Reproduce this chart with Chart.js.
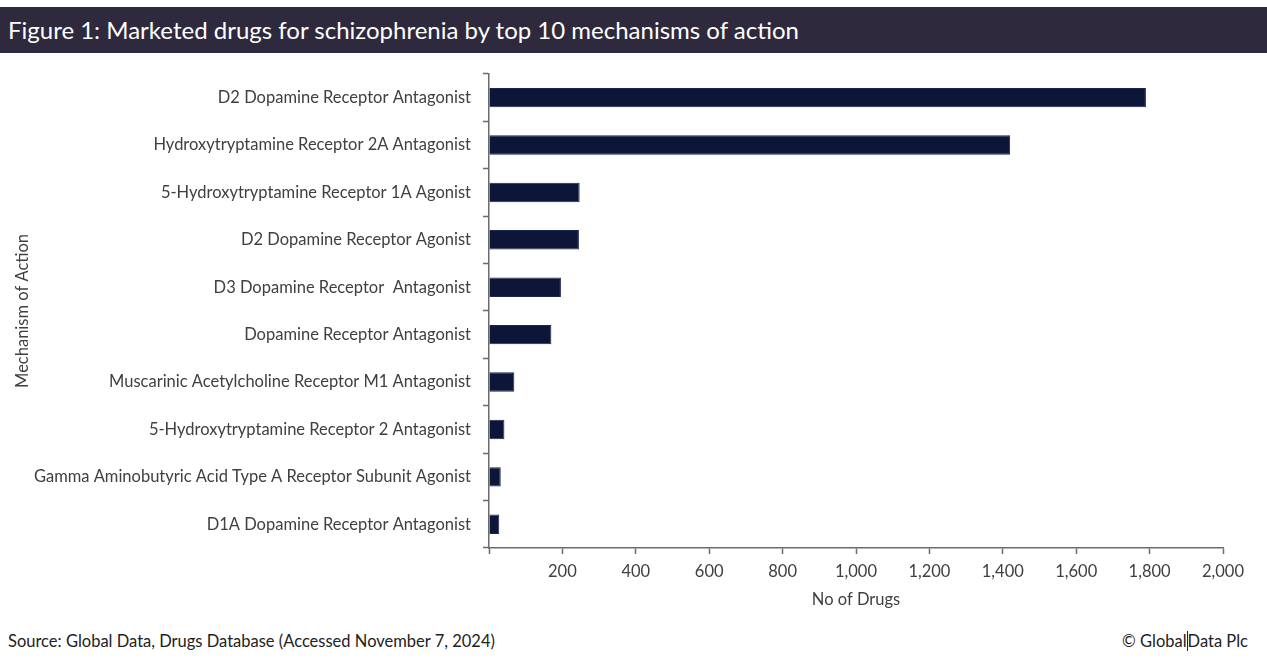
<!DOCTYPE html>
<html>
<head>
<meta charset="utf-8">
<script src="https://cdn.jsdelivr.net/npm/chart.js@4"></script>
<style>
  body { margin: 0; background: #fff; font-family: Lato, "Open Sans", sans-serif; }
  #page { position: relative; width: 1267px; height: 660px; overflow: hidden; }
  #title {
    position: absolute; left: 0; top: 7px; width: 1267px; height: 46px;
    background: #2e293d; color: #fff; font-size: 24px; line-height: 46px;
    padding-left: 8px; box-sizing: border-box;
  }
  #wrap { position: absolute; left: 0; top: 52px; width: 1267px; height: 568px; }
  .foot { position: absolute; top: 631px; font-size: 16.5px; color: #222; }
  #source { left: 8px; }
  #copy { right: 19px; }
  #copy span { border-left: 1px solid #222; }
</style>
</head>
<body>
<div id="page">
  <div id="title">Figure 1: Marketed drugs for schizophrenia by top 10 mechanisms of action</div>
  <div id="wrap"><canvas id="chart-1"></canvas></div>
  <div class="foot" id="source">Source: Global Data, Drugs Database (Accessed November 7, 2024)</div>
  <div class="foot" id="copy">© Global<span>Data Plc</span></div>
</div>
<script>
// categories and values
const mechanisms = [
  "D2 Dopamine Receptor Antagonist",
  "Hydroxytryptamine Receptor 2A Antagonist",
  "5-Hydroxytryptamine Receptor 1A Agonist",
  "D2 Dopamine Receptor Agonist",
  "D3 Dopamine Receptor  Antagonist",
  "Dopamine Receptor Antagonist",
  "Muscarinic Acetylcholine Receptor M1 Antagonist",
  "5-Hydroxytryptamine Receptor 2 Antagonist",
  "Gamma Aminobutyric Acid Type A Receptor Subunit Agonist",
  "D1A Dopamine Receptor Antagonist"
];
const drugCounts = [1790, 1420, 247, 245, 196, 170, 69, 42, 32, 28];
const xMin = 0;
const xMax = 2000;
const xStep = 200;

const axisColor = '#6b6b6b';
const labelFont = { family: 'Lato', size: 16.5 };

const ctx = document.getElementById("chart-1").getContext("2d");
const myChart = new Chart(ctx, {
  type: "bar",
  data: {
    labels: mechanisms,
    datasets: [{
      label: "No of Drugs",
      data: drugCounts,
      backgroundColor: '#0d1538',
      borderColor: '#1c2550',
      borderWidth: 1,
      barPercentage: 0.41,
      categoryPercentage: 1
    }]
  },
  options: {
    indexAxis: 'y',
    responsive: true,
    maintainAspectRatio: false,
    animation: false,
    layout: { padding: { top: 12, right: 44, left: 0, bottom: 0 } },
    plugins: { legend: { display: false }, tooltip: { enabled: false } },
    scales: {
      x: {
        min: xMin,
        max: xMax,
        ticks: {
          stepSize: xStep,
          color: '#404040',
          font: labelFont,
          padding: 8,
          callback: (v) => v === 0 ? '' : v.toLocaleString('en-US')
        },
        grid: { drawOnChartArea: false, color: axisColor, tickLength: 6, tickWidth: 1.5 },
        border: { color: axisColor, width: 1.5 },
        title: { display: true, text: 'No of Drugs', color: '#404040', font: labelFont, padding: { top: 0, bottom: 10 } },
        afterFit: (scale) => { scale.height = 72; }
      },
      y: {
        ticks: { color: '#404040', font: labelFont, padding: 12, autoSkip: false },
        grid: { drawOnChartArea: false, offset: true, color: axisColor, tickLength: 6, tickWidth: 1.5 },
        border: { color: axisColor, width: 1.5 },
        title: { display: true, text: 'Mechanism of Action', color: '#404040', font: labelFont, padding: { top: 13, bottom: 0 } },
        afterFit: (scale) => { scale.width = 489; }
      }
    }
  }
});
</script>
</body>
</html>
